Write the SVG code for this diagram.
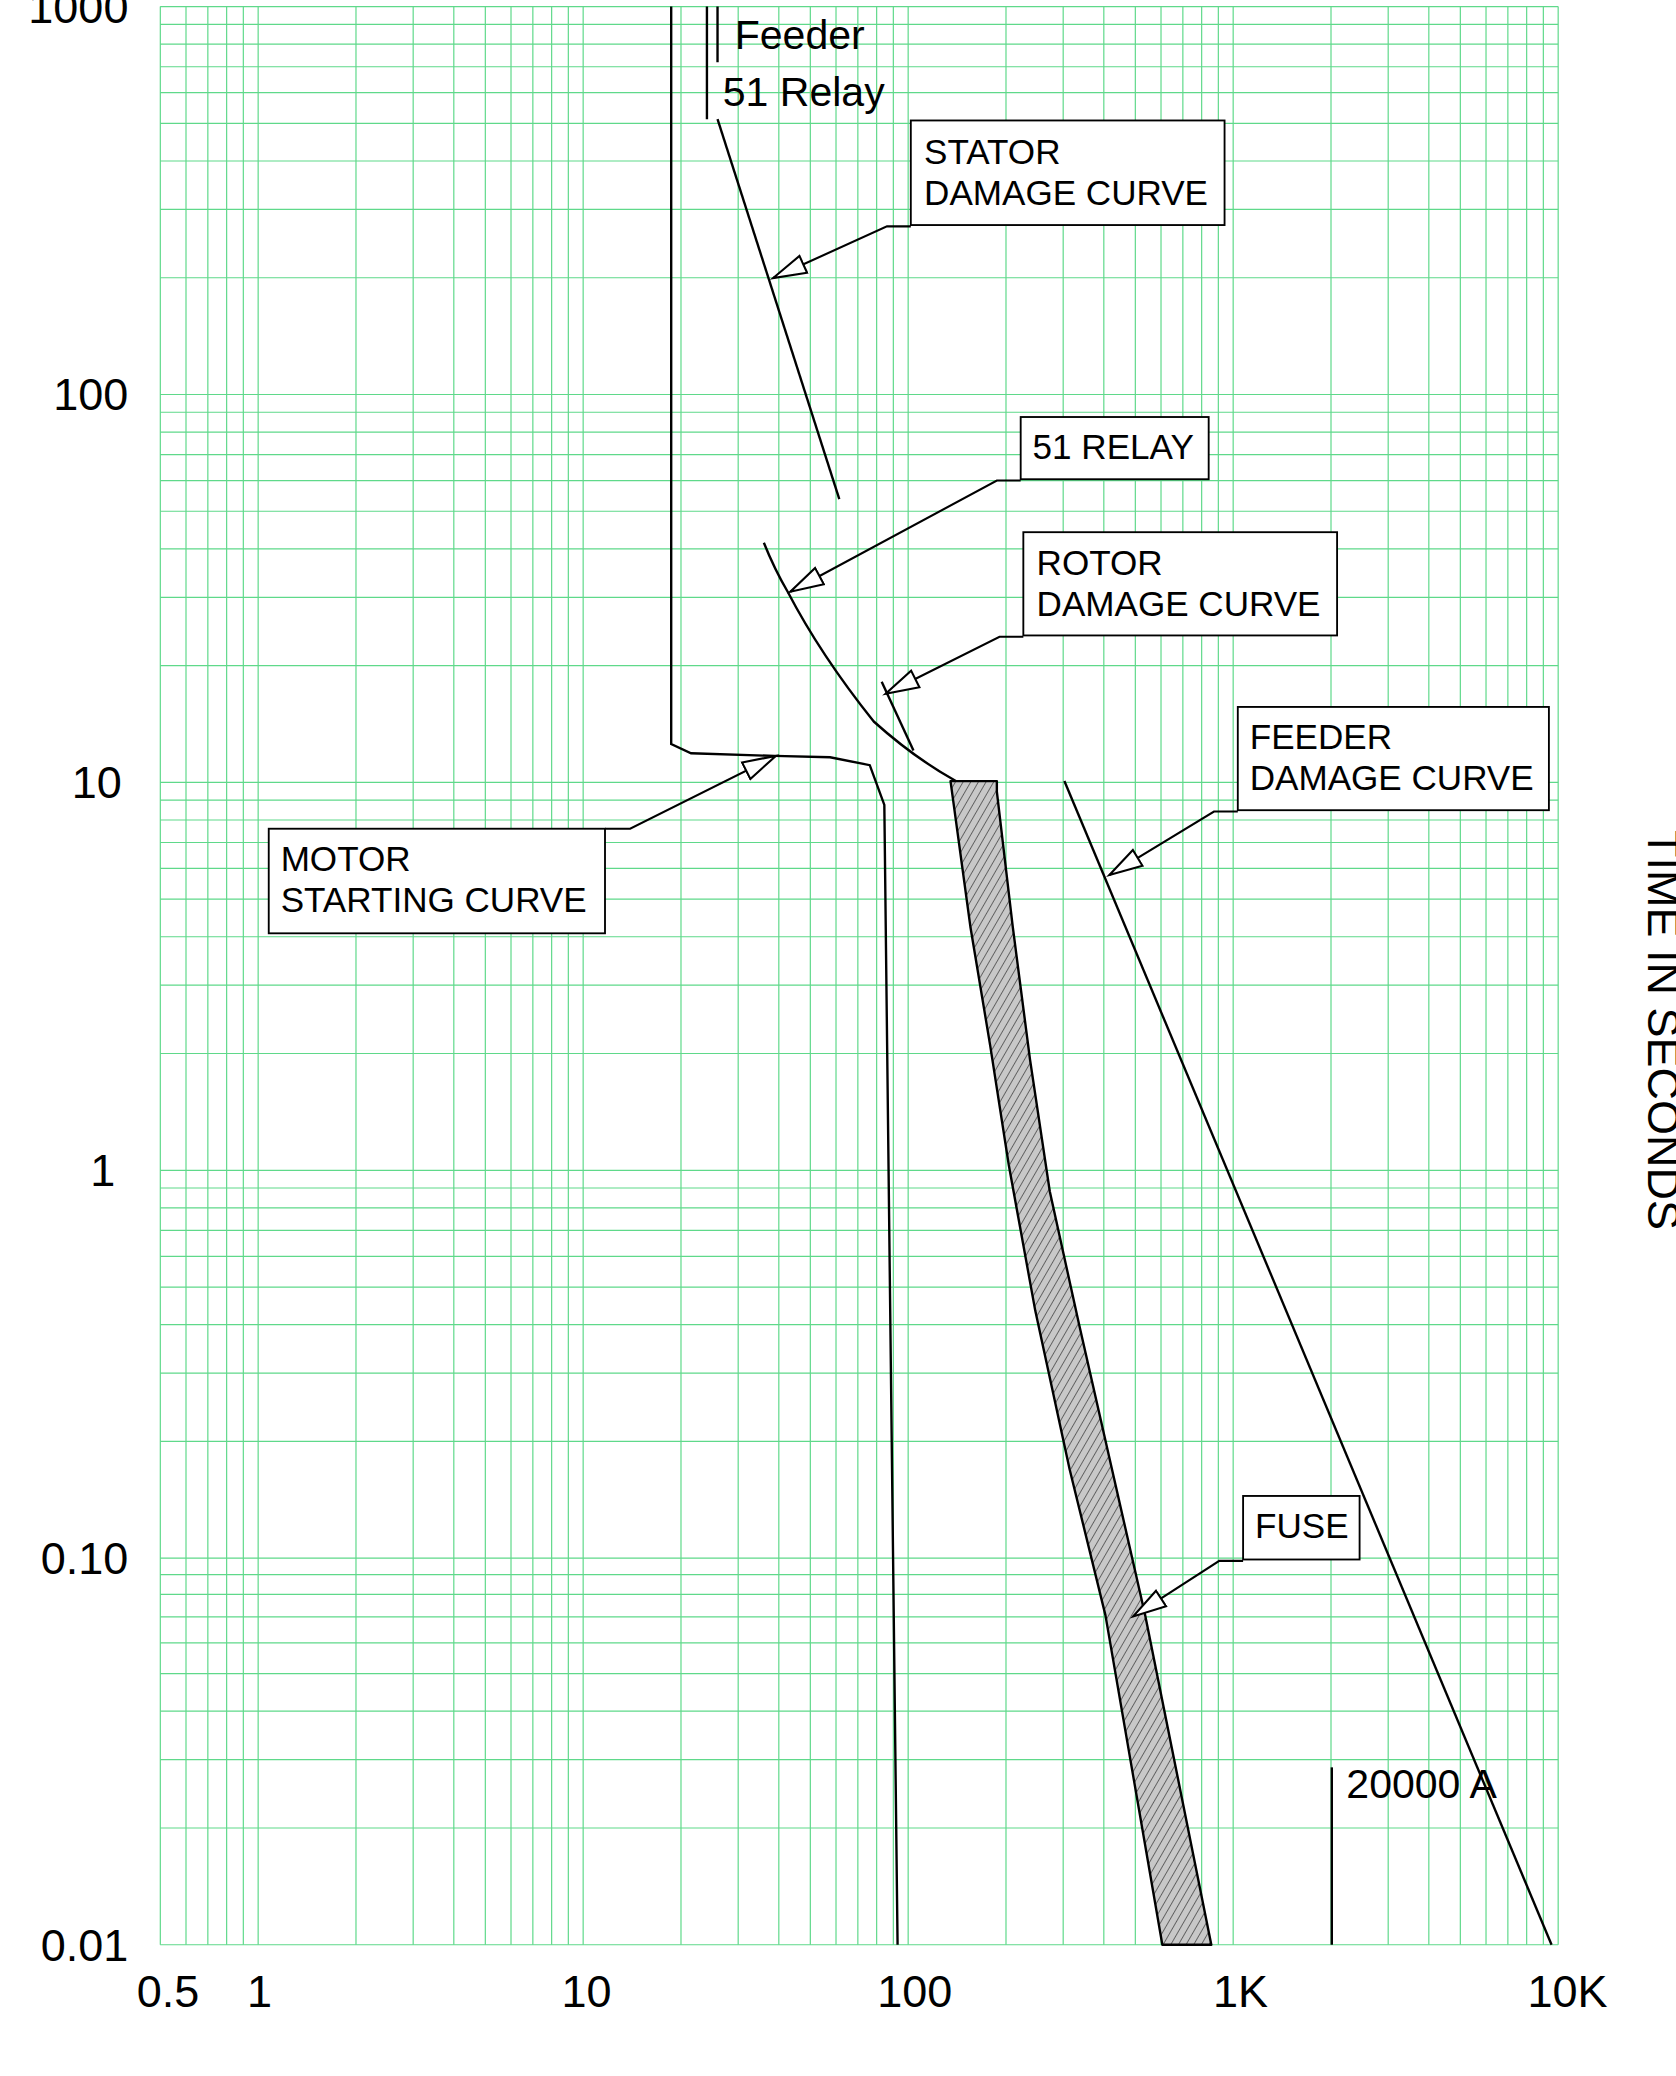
<svg xmlns="http://www.w3.org/2000/svg" width="1676" height="2076" viewBox="0 0 1676 2076">
<style>
.g{stroke:#5fd98a;stroke-width:0.9;fill:none}
.c{stroke:#000;stroke-width:1.8;fill:none}
.b{fill:#fff;stroke:#000;stroke-width:1.4}
.t{font-family:"Liberation Sans",Arial,sans-serif;font-size:26.5px;fill:#000}
.a{font-family:"Liberation Sans",Arial,sans-serif;font-size:34px;fill:#000}
.n{font-family:"Liberation Sans",Arial,sans-serif;font-size:31px;fill:#000}
.l{stroke:#000;stroke-width:1.6;fill:none;marker-end:url(#arr)}
</style>
<defs>
<marker id="arr" markerUnits="userSpaceOnUse" markerWidth="30" markerHeight="20" refX="26" refY="8" orient="auto" viewBox="0 0 30 16">
<path d="M1,1 L26,8 L1,15 Z" fill="#fff" stroke="#000" stroke-width="1.6"/>
</marker>
<pattern id="hatch" patternUnits="userSpaceOnUse" width="5" height="5" patternTransform="rotate(30)">
<rect width="5" height="5" fill="#c8c8c8"/>
<line x1="0" y1="0" x2="0" y2="5" stroke="#333" stroke-width="1"/>
</pattern>
</defs>
<rect width="1676" height="2076" fill="#fff"/>
<g transform="scale(1.32385)">
<g id="grid">
<path class="g" d="M121.1,5V1469M140.5,5V1469M157,5V1469M171.2,5V1469M183.8,5V1469M195,5V1469M268.9,5V1469M312.1,5V1469M342.8,5V1469M366.6,5V1469M386,5V1469M402.5,5V1469M416.7,5V1469M429.3,5V1469M440.5,5V1469M514.4,5V1469M557.6,5V1469M588.3,5V1469M612.1,5V1469M631.5,5V1469M648,5V1469M662.2,5V1469M674.8,5V1469M686,5V1469M759.9,5V1469M803.1,5V1469M833.8,5V1469M857.6,5V1469M877,5V1469M893.5,5V1469M907.7,5V1469M920.3,5V1469M931.5,5V1469M1005.4,5V1469M1048.6,5V1469M1079.3,5V1469M1103.1,5V1469M1122.5,5V1469M1139,5V1469M1153.2,5V1469M1165.8,5V1469M1177,5V1469"/>
<path class="g" d="M121,5H1177M121,18.4H1177M121,33.4H1177M121,50.4H1177M121,70H1177M121,93.2H1177M121,121.6H1177M121,158.2H1177M121,209.8H1177M121,298H1177M121,311.4H1177M121,326.4H1177M121,343.4H1177M121,363H1177M121,386.2H1177M121,414.6H1177M121,451.2H1177M121,502.8H1177M121,591H1177M121,604.4H1177M121,619.4H1177M121,636.4H1177M121,656H1177M121,679.2H1177M121,707.6H1177M121,744.2H1177M121,795.8H1177M121,884H1177M121,897.4H1177M121,912.4H1177M121,929.4H1177M121,949H1177M121,972.2H1177M121,1000.6H1177M121,1037.2H1177M121,1088.8H1177M121,1177H1177M121,1189.4H1177M121,1204.4H1177M121,1221.4H1177M121,1241H1177M121,1264.2H1177M121,1292.6H1177M121,1329.2H1177M121,1380.8H1177M121,1469H1177"/>
</g>
<g id="axes">
<text class="a" x="97" y="17" text-anchor="end">1000</text>
<text class="a" x="97" y="310" text-anchor="end">100</text>
<text class="a" x="92" y="603" text-anchor="end">10</text>
<text class="a" x="87" y="896" text-anchor="end">1</text>
<text class="a" x="97" y="1189" text-anchor="end">0.10</text>
<text class="a" x="97" y="1481" text-anchor="end">0.01</text>
<text class="a" x="127" y="1516" text-anchor="middle">0.5</text>
<text class="a" x="196" y="1516" text-anchor="middle">1</text>
<text class="a" x="443" y="1516" text-anchor="middle">10</text>
<text class="a" x="691" y="1516" text-anchor="middle">100</text>
<text class="a" x="937" y="1516" text-anchor="middle">1K</text>
<text class="a" x="1184" y="1516" text-anchor="middle">10K</text>
<text class="a" x="1245" y="778" text-anchor="middle" transform="rotate(90 1245 778)">TIME IN SECONDS</text>
</g>
<g id="curves">
<path class="c" d="M507,5V562L522,569L585,571L627,572L657,578L668,608L678,1469" stroke-width="2.2"/>
<path class="c" d="M534,5V90M542,5V47"/>
<path class="c" d="M542,90L634,377"/>
<path class="c" d="M577,410Q585,430 595,447Q620,495 660,545Q690,572 722,590"/>
<path class="c" d="M666,515L690,567"/>
<path d="M718,590L733,700L748,790L762,880L782,990L808,1110L835,1220L878,1469L915,1469L865,1220L840,1110L815,1000L793,900L778,800L765,700L753,598L753,590Z" fill="url(#hatch)" stroke="#000" stroke-width="1.8" stroke-linejoin="round"/>
<path class="c" d="M804,590L1172,1469"/>
<path class="c" d="M1006,1335V1469"/>
</g>
<g id="connectors">
<path class="l" d="M688,171H670L584,210"/>
<path class="l" d="M771,363H753L597,447"/>
<path class="l" d="M773,481H755L669,524"/>
<path class="l" d="M935,613H917L838,661"/>
<path class="l" d="M457,626H476L586,571"/>
<path class="l" d="M939,1179H921L856,1221"/>
</g>
<g id="stator"><rect class="b" x="688" y="91" width="237" height="79"/><text class="t" x="698" y="124">STATOR</text><text class="t" x="698" y="155">DAMAGE CURVE</text></g>
<g id="relay51"><rect class="b" x="771" y="315" width="142" height="47"/><text class="t" x="780" y="347">51 RELAY</text></g>
<g id="rotor"><rect class="b" x="773" y="402" width="237" height="78"/><text class="t" x="783" y="434">ROTOR</text><text class="t" x="783" y="465">DAMAGE CURVE</text></g>
<g id="feeder"><rect class="b" x="935" y="534" width="235" height="78"/><text class="t" x="944" y="566">FEEDER</text><text class="t" x="944" y="597">DAMAGE CURVE</text></g>
<g id="motor"><rect class="b" x="203" y="626" width="254" height="79"/><text class="t" x="212" y="658">MOTOR</text><text class="t" x="212" y="689">STARTING CURVE</text></g>
<g id="fuse"><rect class="b" x="939" y="1130" width="88" height="48"/><text class="t" x="948" y="1162">FUSE</text></g>
<g id="notes">
<text class="n" x="555" y="37">Feeder</text>
<text class="n" x="546" y="80">51 Relay</text>
<text class="n" x="1017" y="1358">20000 A</text>
</g>
</g>
</svg>
